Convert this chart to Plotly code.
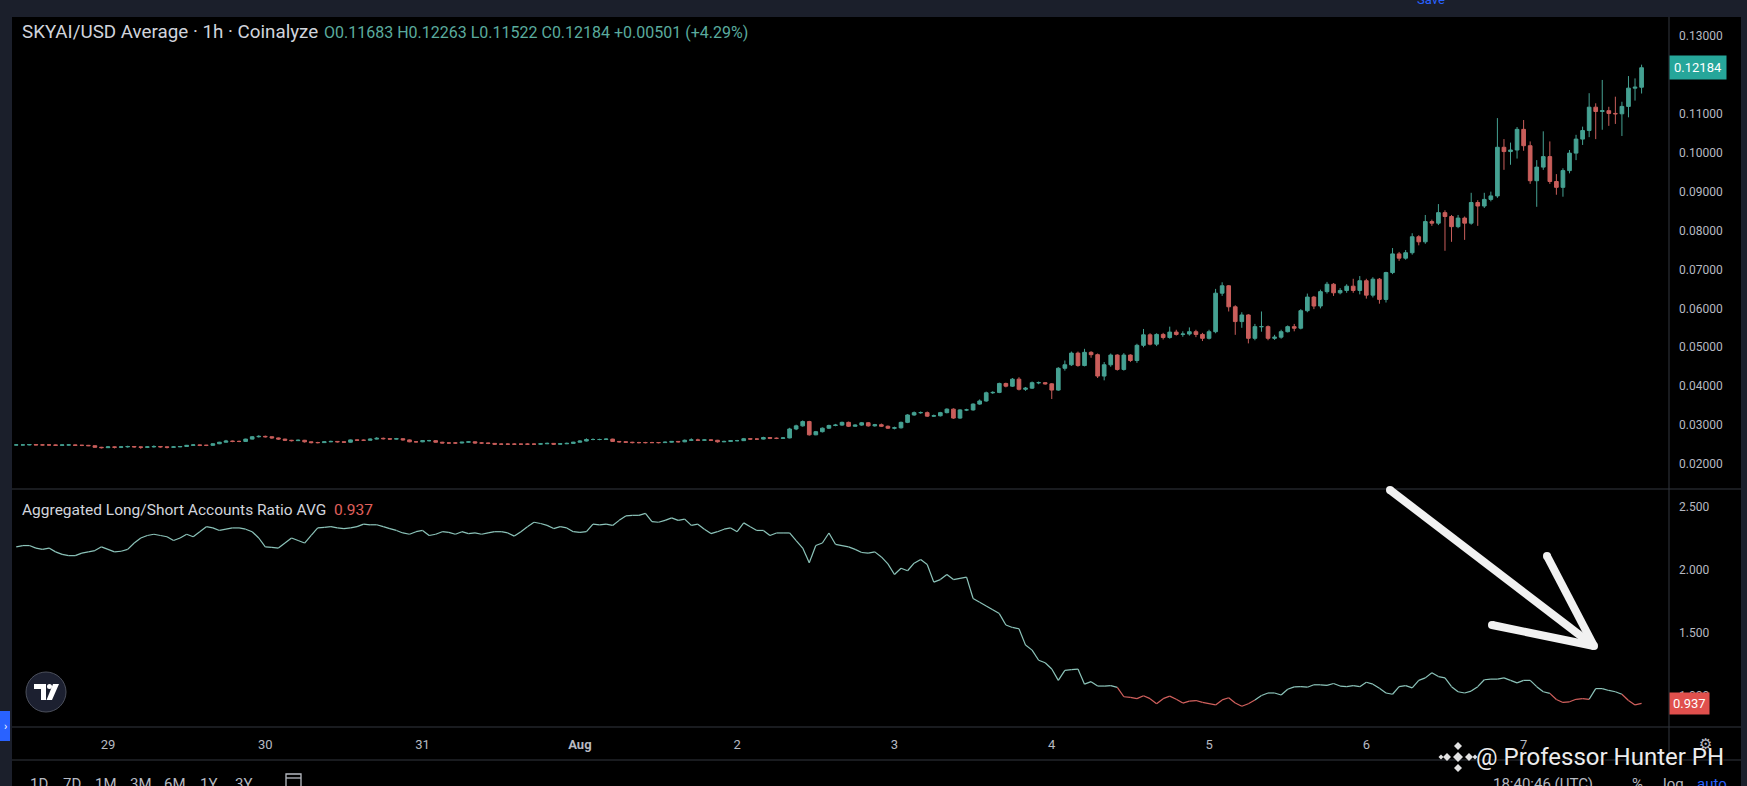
import pandas as pd
import plotly.graph_objects as go

W, H = 1747, 786

# hourly candles, SKYAI/USD average, first candle Jul 28 10:00 UTC
start = "2025-07-28 10:00"
first_open = 0.0249

close_jul28 = [0.0249, 0.0249, 0.0250, 0.0249, 0.0249, 0.0249, 0.0248, 0.0249, 0.0249, 0.0248, 0.0248, 0.0247, 0.0243, 0.0242]
high_jul28 = [0.0251, 0.0250, 0.0251, 0.0251, 0.0250, 0.0250, 0.0250, 0.0250, 0.0251, 0.0250, 0.0249, 0.0249, 0.0248, 0.0244]
low_jul28 = [0.0248, 0.0248, 0.0248, 0.0248, 0.0248, 0.0247, 0.0247, 0.0247, 0.0248, 0.0247, 0.0246, 0.0246, 0.0242, 0.0240]

close_jul29 = [0.0244, 0.0243, 0.0244, 0.0245, 0.0244, 0.0243, 0.0244, 0.0245, 0.0244, 0.0243, 0.0244, 0.0245,
               0.0248, 0.0249, 0.0248, 0.0248, 0.0252, 0.0256, 0.0259, 0.0258, 0.0258, 0.0264, 0.0270, 0.0271]
high_jul29 = [0.0246, 0.0245, 0.0246, 0.0247, 0.0246, 0.0245, 0.0246, 0.0248, 0.0246, 0.0245, 0.0246, 0.0246,
              0.0249, 0.0251, 0.0250, 0.0249, 0.0253, 0.0257, 0.0262, 0.0260, 0.0260, 0.0265, 0.0272, 0.0274]
low_jul29 = [0.0241, 0.0240, 0.0241, 0.0242, 0.0242, 0.0239, 0.0241, 0.0242, 0.0242, 0.0240, 0.0242, 0.0243,
             0.0244, 0.0247, 0.0246, 0.0246, 0.0247, 0.0251, 0.0255, 0.0256, 0.0256, 0.0257, 0.0263, 0.0268]

close_jul30 = [0.0270, 0.0267, 0.0264, 0.0261, 0.0260, 0.0261, 0.0257, 0.0255, 0.0255, 0.0257, 0.0258, 0.0257,
               0.0256, 0.0262, 0.0261, 0.0261, 0.0264, 0.0266, 0.0265, 0.0264, 0.0265, 0.0262, 0.0257, 0.0257]
high_jul30 = [0.0273, 0.0271, 0.0268, 0.0265, 0.0262, 0.0263, 0.0262, 0.0258, 0.0257, 0.0258, 0.0260, 0.0259,
              0.0258, 0.0263, 0.0263, 0.0263, 0.0266, 0.0269, 0.0268, 0.0266, 0.0267, 0.0266, 0.0263, 0.0259]
low_jul30 = [0.0268, 0.0265, 0.0262, 0.0259, 0.0258, 0.0259, 0.0255, 0.0253, 0.0253, 0.0254, 0.0256, 0.0255,
             0.0254, 0.0255, 0.0259, 0.0259, 0.0260, 0.0263, 0.0263, 0.0262, 0.0263, 0.0260, 0.0256, 0.0255]

close_jul31 = [0.0260, 0.0260, 0.0256, 0.0254, 0.0254, 0.0254, 0.0256, 0.0257, 0.0254, 0.0254, 0.0253, 0.0251,
               0.0251, 0.0251, 0.0251, 0.0251, 0.0251, 0.0251, 0.0252, 0.0253, 0.0251, 0.0252, 0.0253, 0.0256]
high_jul31 = [0.0261, 0.0262, 0.0261, 0.0257, 0.0256, 0.0256, 0.0257, 0.0259, 0.0258, 0.0256, 0.0255, 0.0254,
              0.0253, 0.0253, 0.0253, 0.0252, 0.0253, 0.0253, 0.0254, 0.0255, 0.0254, 0.0254, 0.0255, 0.0257]
low_jul31 = [0.0256, 0.0258, 0.0255, 0.0253, 0.0252, 0.0252, 0.0253, 0.0255, 0.0252, 0.0252, 0.0251, 0.0249,
             0.0249, 0.0250, 0.0249, 0.0250, 0.0249, 0.0250, 0.0250, 0.0251, 0.0249, 0.0250, 0.0251, 0.0252]

close_aug1 = [0.0259, 0.0263, 0.0263, 0.0263, 0.0264, 0.0258, 0.0257, 0.0256, 0.0255, 0.0255, 0.0255, 0.0255,
              0.0255, 0.0256, 0.0258, 0.0257, 0.0261, 0.0262, 0.0261, 0.0262, 0.0261, 0.0257, 0.0258, 0.0260]
high_aug1 = [0.0261, 0.0266, 0.0266, 0.0265, 0.0266, 0.0265, 0.0259, 0.0258, 0.0257, 0.0257, 0.0257, 0.0257,
             0.0256, 0.0258, 0.0259, 0.0259, 0.0263, 0.0266, 0.0265, 0.0264, 0.0264, 0.0262, 0.0260, 0.0261]
low_aug1 = [0.0255, 0.0258, 0.0261, 0.0261, 0.0262, 0.0257, 0.0255, 0.0254, 0.0253, 0.0253, 0.0253, 0.0254,
            0.0253, 0.0254, 0.0255, 0.0255, 0.0256, 0.0259, 0.0259, 0.0260, 0.0259, 0.0255, 0.0256, 0.0257]

close_aug2 = [0.0260, 0.0265, 0.0264, 0.0264, 0.0268, 0.0266, 0.0266, 0.0267, 0.0290, 0.0298, 0.0309, 0.0275,
              0.0283, 0.0292, 0.0299, 0.0300, 0.0307, 0.0297, 0.0300, 0.0306, 0.0298, 0.0301, 0.0297, 0.0292]
high_aug2 = [0.0262, 0.0267, 0.0266, 0.0266, 0.0270, 0.0269, 0.0268, 0.0269, 0.0293, 0.0301, 0.0312, 0.0311,
             0.0285, 0.0294, 0.0301, 0.0303, 0.0309, 0.0309, 0.0302, 0.0308, 0.0308, 0.0303, 0.0304, 0.0299]
low_aug2 = [0.0258, 0.0259, 0.0262, 0.0262, 0.0263, 0.0264, 0.0264, 0.0265, 0.0266, 0.0287, 0.0296, 0.0273,
            0.0274, 0.0281, 0.0290, 0.0297, 0.0298, 0.0295, 0.0296, 0.0298, 0.0296, 0.0296, 0.0295, 0.0290]

close_aug3 = [0.0293, 0.0307, 0.0326, 0.0332, 0.0332, 0.0323, 0.0324, 0.0332, 0.0341, 0.0318, 0.0339, 0.0339,
              0.0354, 0.0362, 0.0383, 0.0384, 0.0407, 0.0400, 0.0418, 0.0392, 0.0395, 0.0409, 0.0409, 0.0406]
high_aug3 = [0.0296, 0.0309, 0.0328, 0.0335, 0.0335, 0.0335, 0.0327, 0.0334, 0.0343, 0.0343, 0.0341, 0.0342,
             0.0356, 0.0366, 0.0386, 0.0387, 0.0409, 0.0409, 0.0421, 0.0423, 0.0398, 0.0412, 0.0412, 0.0410]
low_aug3 = [0.0289, 0.0291, 0.0305, 0.0324, 0.0329, 0.0321, 0.0321, 0.0322, 0.0330, 0.0316, 0.0316, 0.0336,
            0.0337, 0.0352, 0.0360, 0.0380, 0.0382, 0.0397, 0.0398, 0.0389, 0.0388, 0.0393, 0.0405, 0.0404]

close_aug4 = [0.0390, 0.0446, 0.0455, 0.0485, 0.0453, 0.0487, 0.0481, 0.0426, 0.0455, 0.0480, 0.0443, 0.0480,
              0.0466, 0.0505, 0.0532, 0.0508, 0.0533, 0.0525, 0.0539, 0.0533, 0.0534, 0.0540, 0.0533, 0.0523]
high_aug4 = [0.0408, 0.0449, 0.0466, 0.0489, 0.0489, 0.0496, 0.0490, 0.0484, 0.0462, 0.0484, 0.0482, 0.0485,
             0.0482, 0.0509, 0.0547, 0.0536, 0.0536, 0.0537, 0.0553, 0.0545, 0.0541, 0.0551, 0.0545, 0.0537]
low_aug4 = [0.0367, 0.0388, 0.0440, 0.0452, 0.0450, 0.0451, 0.0473, 0.0421, 0.0415, 0.0450, 0.0440, 0.0440,
            0.0462, 0.0460, 0.0500, 0.0505, 0.0503, 0.0520, 0.0522, 0.0530, 0.0527, 0.0530, 0.0526, 0.0516]

close_aug5 = [0.0540, 0.0639, 0.0658, 0.0604, 0.0566, 0.0583, 0.0523, 0.0553, 0.0553, 0.0523, 0.0526, 0.0540,
              0.0553, 0.0549, 0.0594, 0.0629, 0.0606, 0.0643, 0.0662, 0.0640, 0.0646, 0.0657, 0.0646, 0.0671]
high_aug5 = [0.0545, 0.0650, 0.0667, 0.0660, 0.0608, 0.0590, 0.0585, 0.0560, 0.0592, 0.0556, 0.0532, 0.0545,
             0.0556, 0.0560, 0.0598, 0.0638, 0.0632, 0.0648, 0.0668, 0.0665, 0.0652, 0.0662, 0.0676, 0.0683]
low_aug5 = [0.0520, 0.0536, 0.0632, 0.0592, 0.0532, 0.0550, 0.0510, 0.0518, 0.0540, 0.0518, 0.0519, 0.0522,
            0.0538, 0.0541, 0.0546, 0.0590, 0.0598, 0.0600, 0.0638, 0.0632, 0.0636, 0.0640, 0.0640, 0.0636]

close_aug6 = [0.0634, 0.0675, 0.0623, 0.0692, 0.0740, 0.0729, 0.0743, 0.0784, 0.0771, 0.0823, 0.0819, 0.0846,
              0.0836, 0.0810, 0.0832, 0.0819, 0.0872, 0.0863, 0.0880, 0.0889, 0.1014, 0.1003, 0.1007, 0.1060]
high_aug6 = [0.0676, 0.0680, 0.0678, 0.0694, 0.0755, 0.0745, 0.0750, 0.0793, 0.0788, 0.0840, 0.0828, 0.0868,
             0.0852, 0.0840, 0.0840, 0.0836, 0.0897, 0.0878, 0.0897, 0.0900, 0.1089, 0.1035, 0.1026, 0.1066]
low_aug6 = [0.0625, 0.0628, 0.0612, 0.0615, 0.0688, 0.0722, 0.0725, 0.0738, 0.0762, 0.0766, 0.0812, 0.0814,
            0.0748, 0.0771, 0.0806, 0.0776, 0.0815, 0.0812, 0.0858, 0.0875, 0.0884, 0.0956, 0.0969, 0.0985]

close_aug7 = [0.1018, 0.0928, 0.0963, 0.0990, 0.0926, 0.0911, 0.0954, 0.0999, 0.1035, 0.1057, 0.1117, 0.1106,
              0.1108, 0.1101, 0.1100, 0.1119, 0.1166, 0.11683, 0.12184]
high_aug7 = [0.1084, 0.1029, 0.0981, 0.1055, 0.1029, 0.0945, 0.0960, 0.1007, 0.1046, 0.1067, 0.1153, 0.1127,
             0.1187, 0.1118, 0.1144, 0.1131, 0.1197, 0.1191, 0.12263]
low_aug7 = [0.1005, 0.0920, 0.0861, 0.0956, 0.0920, 0.0892, 0.0887, 0.0947, 0.0981, 0.1020, 0.1040, 0.1035,
            0.1059, 0.1069, 0.1074, 0.1043, 0.1091, 0.1134, 0.11522]

# aggregated long/short accounts ratio, same hours
ratio_jul28 = [2.18, 2.19, 2.19, 2.17, 2.16, 2.17, 2.14, 2.12, 2.11, 2.11, 2.13, 2.14, 2.15, 2.18]
ratio_jul29 = [2.16, 2.14, 2.145, 2.16, 2.21, 2.25, 2.27, 2.28, 2.27, 2.26, 2.23, 2.25,
               2.28, 2.26, 2.30, 2.34, 2.33, 2.31, 2.32, 2.33, 2.33, 2.32, 2.30, 2.25]
ratio_jul30 = [2.18, 2.175, 2.17, 2.21, 2.25, 2.23, 2.21, 2.27, 2.33, 2.335, 2.34, 2.33,
               2.325, 2.33, 2.34, 2.36, 2.355, 2.355, 2.34, 2.325, 2.31, 2.29, 2.28, 2.30]
ratio_jul31 = [2.31, 2.27, 2.28, 2.30, 2.295, 2.28, 2.30, 2.285, 2.29, 2.28, 2.29, 2.30,
               2.30, 2.29, 2.265, 2.30, 2.34, 2.375, 2.365, 2.35, 2.325, 2.34, 2.33, 2.30]
ratio_aug1 = [2.295, 2.30, 2.36, 2.355, 2.36, 2.35, 2.39, 2.425, 2.43, 2.43, 2.445, 2.38,
              2.375, 2.39, 2.41, 2.39, 2.40, 2.35, 2.36, 2.32, 2.285, 2.30, 2.32, 2.33]
ratio_aug2 = [2.30, 2.37, 2.34, 2.31, 2.31, 2.27, 2.29, 2.29, 2.29, 2.23, 2.17, 2.054,
              2.19, 2.21, 2.29, 2.20, 2.19, 2.18, 2.16, 2.135, 2.13, 2.14, 2.10, 2.045]
ratio_aug3 = [1.96, 2.01, 1.99, 2.05, 2.08, 2.04, 1.90, 1.92, 1.96, 1.92, 1.93, 1.94,
              1.77, 1.74, 1.71, 1.68, 1.65, 1.56, 1.54, 1.53, 1.40, 1.36, 1.28, 1.26]
ratio_aug4 = [1.21, 1.12, 1.20, 1.205, 1.21, 1.09, 1.11, 1.075, 1.075, 1.078, 1.065, 0.99,
              0.985, 0.975, 0.998, 0.975, 0.935, 0.975, 0.995, 0.97, 0.94, 0.955, 0.96, 0.945]
ratio_aug5 = [0.935, 0.925, 0.965, 0.982, 0.94, 0.915, 0.935, 0.965, 1.00, 1.02, 1.02, 1.004,
              1.05, 1.068, 1.07, 1.066, 1.085, 1.085, 1.08, 1.095, 1.075, 1.07, 1.078, 1.07]
ratio_aug6 = [1.105, 1.09, 1.057, 1.02, 1.01, 1.07, 1.078, 1.06, 1.12, 1.14, 1.18, 1.15,
              1.14, 1.07, 1.03, 1.02, 1.035, 1.07, 1.125, 1.13, 1.13, 1.14, 1.12, 1.10]
ratio_aug7 = [1.12, 1.12, 1.07, 1.03, 1.017, 0.968, 0.945, 0.95, 0.97, 0.975, 0.97, 1.055,
              1.055, 1.04, 1.03, 1.01, 0.96, 0.925, 0.937]

day_ticks = ["2025-07-29", "2025-07-30", "2025-07-31", "2025-08-01", "2025-08-02",
             "2025-08-03", "2025-08-04", "2025-08-05", "2025-08-06", "2025-08-07"]
day_labels = ["29", "30", "31", "<b>Aug</b>", "2", "3", "4", "5", "6", "7"]
price_ticks = [0.02, 0.03, 0.04, 0.05, 0.06, 0.07, 0.08, 0.09, 0.10, 0.11, 0.12, 0.13]
ratio_ticks = [1.0, 1.5, 2.0, 2.5]
range_buttons = ["1D", "7D", "1M", "3M", "6M", "1Y", "3Y"]

close = (close_jul28 + close_jul29 + close_jul30 + close_jul31 + close_aug1 + close_aug2
         + close_aug3 + close_aug4 + close_aug5 + close_aug6 + close_aug7)
high = (high_jul28 + high_jul29 + high_jul30 + high_jul31 + high_aug1 + high_aug2
        + high_aug3 + high_aug4 + high_aug5 + high_aug6 + high_aug7)
low = (low_jul28 + low_jul29 + low_jul30 + low_jul31 + low_aug1 + low_aug2
       + low_aug3 + low_aug4 + low_aug5 + low_aug6 + low_aug7)
ratio = (ratio_jul28 + ratio_jul29 + ratio_jul30 + ratio_jul31 + ratio_aug1 + ratio_aug2
         + ratio_aug3 + ratio_aug4 + ratio_aug5 + ratio_aug6 + ratio_aug7)
opens = [first_open] + close[:-1]
times = pd.date_range(start, periods=len(close), freq="h")

GREEN = "#45a192"
RED = "#c95e5b"
AXIS_TXT = "#b7bac2"
GRID = "#33363f"
NAVY = "#1b1f2b"
FONT = "Roboto, Open Sans, sans-serif"


def px(x):
    return x / W


def py(y):
    return 1 - y / H


fig = go.Figure()

fig.add_trace(go.Candlestick(
    x=times, open=opens, high=high, low=low, close=close,
    increasing=dict(line=dict(color=GREEN, width=1), fillcolor=GREEN),
    decreasing=dict(line=dict(color=RED, width=1), fillcolor=RED),
    whiskerwidth=0, xaxis="x", yaxis="y", showlegend=False, hoverinfo="skip",
))

# ratio line: red where the ratio is under 1, teal otherwise
gx, gy, rx, ry = [], [], [], []
for i in range(1, len(ratio)):
    tx, ty = (rx, ry) if ratio[i] < 1.0 else (gx, gy)
    tx += [times[i - 1], times[i], None]
    ty += [ratio[i - 1], ratio[i], None]
fig.add_trace(go.Scatter(x=gx, y=gy, mode="lines", line=dict(color="#8cc4ba", width=1.2),
                         xaxis="x2", yaxis="y2", showlegend=False, hoverinfo="skip"))
fig.add_trace(go.Scatter(x=rx, y=ry, mode="lines", line=dict(color="#d3615e", width=1.2),
                         xaxis="x2", yaxis="y2", showlegend=False, hoverinfo="skip"))

x_range = ["2025-07-28 09:21", "2025-08-07 22:11"]
x_dom = [px(12), px(1669)]


def paper(**kw):
    kw.update(xref="paper", yref="paper")
    return kw


shapes = [
    # screen chrome
    paper(type="rect", x0=0, x1=1, y0=py(17), y1=1, fillcolor=NAVY, line_width=0),
    paper(type="rect", x0=0, x1=px(12), y0=0, y1=1, fillcolor=NAVY, line_width=0),
    paper(type="rect", x0=px(1741), x1=1, y0=0, y1=1, fillcolor=NAVY, line_width=0),
    paper(type="line", x0=px(12), x1=px(1741), y0=py(489), y1=py(489), line=dict(color=GRID, width=1)),
    paper(type="line", x0=px(12), x1=px(1741), y0=py(727), y1=py(727), line=dict(color=GRID, width=1)),
    paper(type="line", x0=px(12), x1=px(1741), y0=py(760), y1=py(760), line=dict(color=GRID, width=1)),
    paper(type="line", x0=px(1669), x1=px(1669), y0=py(17), y1=py(760), line=dict(color=GRID, width=1)),
    paper(type="rect", x0=0, x1=px(10), y0=py(741), y1=py(711), fillcolor="#2962ff", line_width=0),
    # TradingView badge
    paper(type="circle", x0=px(26), x1=px(66), y0=py(712), y1=py(672),
          fillcolor="#1c2030", line=dict(color="#4b4f5b", width=1)),
    paper(type="path", path=f"M {px(34)} {py(684)} L {px(46)} {py(684)} L {px(46)} {py(700)} "
                            f"L {px(41)} {py(700)} L {px(41)} {py(689)} L {px(34)} {py(689)} Z",
          fillcolor="white", line_width=0),
    paper(type="circle", x0=px(47), x1=px(52), y0=py(689), y1=py(684), fillcolor="white", line_width=0),
    paper(type="path", path=f"M {px(53)} {py(684)} L {px(59)} {py(684)} L {px(52)} {py(700)} "
                            f"L {px(46.5)} {py(700)} Z",
          fillcolor="white", line_width=0),
    # calendar icon in the bottom toolbar
    paper(type="rect", x0=px(286), x1=px(301), y0=py(790), y1=py(774),
          line=dict(color=AXIS_TXT, width=1.3), fillcolor="rgba(0,0,0,0)"),
    paper(type="line", x0=px(286), x1=px(301), y0=py(778), y1=py(778), line=dict(color=AXIS_TXT, width=1.3)),
]

# hand-drawn arrow
arrow = [((1390, 490), (1594, 646)), ((1594, 646), (1547, 556)), ((1594, 646), (1492, 625))]
for (x0, y0), (x1, y1) in arrow:
    shapes.append(paper(type="line", x0=px(x0), y0=py(y0), x1=px(x1), y1=py(y1),
                        line=dict(color="#f1f1f1", width=8)))
for cx, cy in [(1390, 490), (1594, 646), (1547, 556), (1492, 625)]:
    shapes.append(paper(type="circle", x0=px(cx - 4), x1=px(cx + 4), y0=py(cy + 4), y1=py(cy - 4),
                        fillcolor="#f1f1f1", line_width=0))

# Binance mark next to the watermark
for cx, cy, r in [(1458, 757, 5), (1458, 746, 4), (1458, 768, 4), (1447, 757, 4), (1469, 757, 4),
                  (1441, 757, 2.5), (1475, 757, 2.5)]:
    shapes.append(paper(type="path",
                        path=f"M {px(cx)} {py(cy - r)} L {px(cx + r)} {py(cy)} L {px(cx)} {py(cy + r)} "
                             f"L {px(cx - r)} {py(cy)} Z",
                        fillcolor="#e2e2e2", line_width=0))

change = close[-1] - close[-2]
ohlc = (f"O{opens[-1]:.5f} H{high[-1]:.5f} L{low[-1]:.5f} C{close[-1]:.5f} "
        f"{change:+.5f} ({change / close[-2] * 100:+.2f}%)")

bottom_font = dict(family=FONT, size=15, color=AXIS_TXT)
annotations = [
    dict(x=px(20), y=py(32), xref="paper", yref="paper", xanchor="left", yanchor="middle",
         text="SKYAI/USD Average · 1h · Coinalyze", showarrow=False,
         font=dict(family=FONT, size=18.8, color="#d1d4dc")),
    dict(x=px(322), y=py(32), xref="paper", yref="paper", xanchor="left", yanchor="middle",
         text=ohlc, showarrow=False, font=dict(family=FONT, size=16, color="#5aab9e")),
    dict(x=px(20), y=py(510), xref="paper", yref="paper", xanchor="left", yanchor="middle",
         text=f"Aggregated Long/Short Accounts Ratio AVG  <span style='color:#e0605d'>{ratio[-1]:.3f}</span>",
         showarrow=False, font=dict(family=FONT, size=15.5, color="#d1d4dc")),
    dict(x=px(1669), y=close[-1], xref="paper", yref="y", xanchor="left", yanchor="middle",
         text=f"{close[-1]:.5f}", showarrow=False, bgcolor="#26a69a", borderpad=4,
         font=dict(family=FONT, size=13, color="white")),
    dict(x=px(1669), y=ratio[-1], xref="paper", yref="y2", xanchor="left", yanchor="middle",
         text=f"{ratio[-1]:.3f}", showarrow=False, bgcolor="#e0504d", borderpad=3,
         font=dict(family=FONT, size=13, color="white")),
    dict(x=px(1474), y=py(757), xref="paper", yref="paper", xanchor="left", yanchor="middle",
         text="@ Professor Hunter PH", showarrow=False,
         font=dict(family=FONT, size=24, color="#ececec", shadow="1px 1px 2px #000")),
    dict(x=px(1491), y=py(784), xref="paper", yref="paper", xanchor="left", yanchor="middle",
         text="18:40:46 (UTC)", showarrow=False, font=bottom_font),
    dict(x=px(1630), y=py(784), xref="paper", yref="paper", xanchor="left", yanchor="middle",
         text="%", showarrow=False, font=bottom_font),
    dict(x=px(1661), y=py(784), xref="paper", yref="paper", xanchor="left", yanchor="middle",
         text="log", showarrow=False, font=bottom_font),
    dict(x=px(1695), y=py(784), xref="paper", yref="paper", xanchor="left", yanchor="middle",
         text="auto", showarrow=False, font=dict(family=FONT, size=15, color="#2962ff")),
    dict(x=px(1415), y=py(-1), xref="paper", yref="paper", xanchor="left", yanchor="middle",
         text="Save", showarrow=False, font=dict(family=FONT, size=13, color="#2962ff")),
    dict(x=px(5), y=py(726), xref="paper", yref="paper", xanchor="center", yanchor="middle",
         text="›", showarrow=False, font=dict(family=FONT, size=11, color="white")),
    dict(x=px(1705), y=py(744), xref="paper", yref="paper", xanchor="center", yanchor="middle",
         text="⚙", showarrow=False, font=dict(family="DejaVu Sans", size=15, color=AXIS_TXT)),
]
for label, bx in zip(range_buttons, [39, 72, 106, 141, 175, 208, 243]):
    annotations.append(dict(x=px(bx), y=py(784), xref="paper", yref="paper", xanchor="center",
                            yanchor="middle", text=label, showarrow=False, font=bottom_font))

axis_font = dict(family=FONT, size=12, color=AXIS_TXT)
fig.update_layout(
    width=W, height=H,
    margin=dict(l=0, r=0, t=0, b=0),
    paper_bgcolor="#000000", plot_bgcolor="#000000",
    showlegend=False,
    boxgap=0.2,
    xaxis=dict(domain=x_dom, anchor="y", range=x_range, type="date", matches="x2",
               showticklabels=False, showgrid=False, zeroline=False, showline=False,
               rangeslider=dict(visible=False)),
    yaxis=dict(domain=[py(489), py(17)], anchor="x", side="right", range=[0.013575, 0.13488],
               tickvals=price_ticks, tickformat=".5f", showgrid=False, zeroline=False,
               showline=False, ticks="", ticklabelstandoff=9, tickfont=axis_font),
    xaxis2=dict(domain=x_dom, anchor="y2", range=x_range, type="date",
                tickvals=day_ticks, ticktext=day_labels, showgrid=False, zeroline=False,
                showline=False, ticks="", ticklabelstandoff=8,
                tickfont=dict(family=FONT, size=13, color=AXIS_TXT)),
    yaxis2=dict(domain=[py(727), py(490)], anchor="x2", side="right", range=[0.75, 2.631],
                tickvals=ratio_ticks, tickformat=".3f", showgrid=False, zeroline=False,
                showline=False, ticks="", ticklabelstandoff=9, tickfont=axis_font),
    shapes=shapes,
    annotations=annotations,
)

# the page body has a default 8px margin; drop it so the figure fills the window
fig.write_html("out.html", config={"displayModeBar": False},
               post_script="document.body.style.margin='0';document.body.style.overflow='hidden';")
